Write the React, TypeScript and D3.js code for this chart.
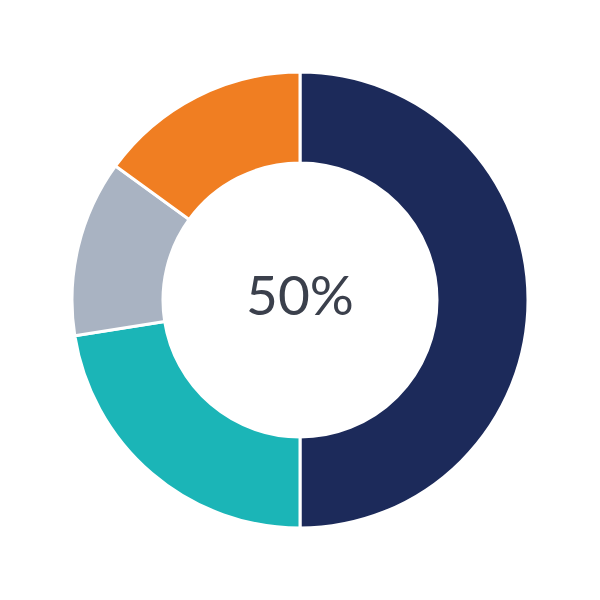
import React from "react";
import * as d3 from "d3";

const categories = ["A", "B", "C", "D"];
const values = [50, 22.5, 12.5, 15];
const colors = ["#1c2a5a", "#1bb5b7", "#a9b3c2", "#f07e22"];
const centerLabel = "50%";

export default function App() {
  const width = 600;
  const height = 600;
  const cx = 300;
  const cy = 300;
  const outer = 228;
  const inner = 137;
  const pie = d3.pie<number>().value((d) => d).sort(null);
  const arcs = pie(values);
  const arc = d3.arc<d3.PieArcDatum<number>>().innerRadius(inner).outerRadius(outer);
  return (
    <svg width={width} height={height} style={{ position: "absolute", left: 0, top: 0 }}>
      <rect width={width} height={height} fill="#ffffff" />
      <g transform={`translate(${cx},${cy})`}>
        {arcs.map((a, i) => (
          <path key={categories[i]} d={arc(a) || ""} fill={colors[i]} stroke="#ffffff" strokeWidth={3} />
        ))}
        <text
          x={0}
          y={-5}
          dy="0.36em"
          textAnchor="middle"
          fontFamily="Lato"
          fontSize={55}
          fill="#3b404c"
        >
          {centerLabel}
        </text>
      </g>
    </svg>
  );
}
